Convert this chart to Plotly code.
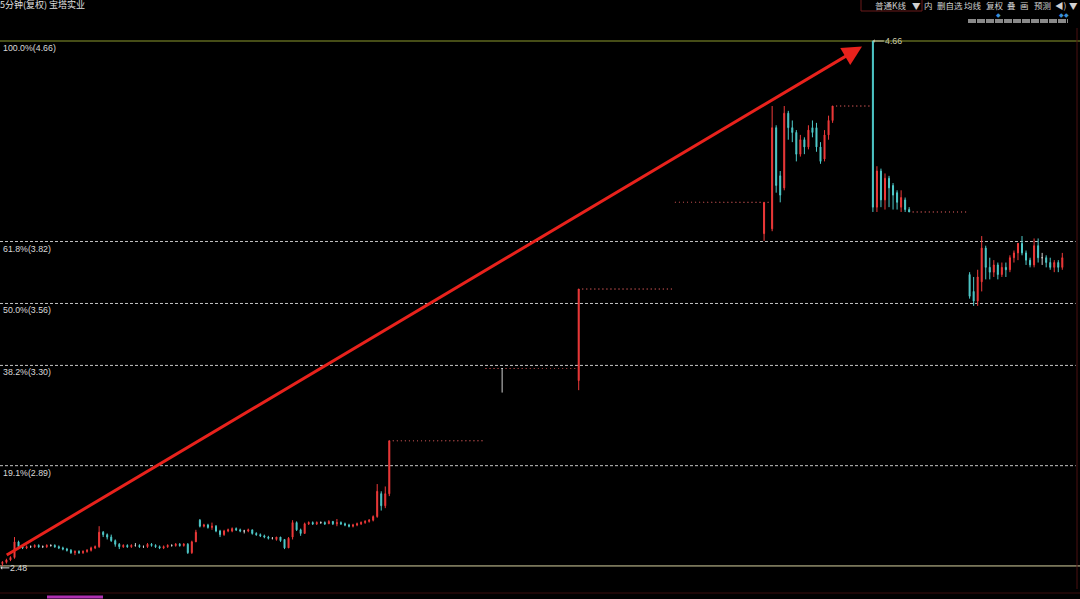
import plotly.graph_objects as go

# ---------------- data ----------------
title_text = "5分钟(复权) 宝塔实业"
fib_ratios = [1.0, 0.618, 0.5, 0.382, 0.191]
fib_pcts = ["100.0%", "61.8%", "50.0%", "38.2%", "19.1%"]
fib_labels = ["4.66", "3.82", "3.56", "3.30", "2.89"]
low_price = 2.48
high_price = 4.66
low_bar = 0
high_bar = 216

# bars as (open, high, low, close)
day1 = [(2.49, 2.50, 2.48, 2.495), (2.495, 2.51, 2.49, 2.505), (2.505, 2.52, 2.50, 2.515),
        (2.515, 2.60, 2.51, 2.58), (2.58, 2.585, 2.55, 2.56), (2.56, 2.565, 2.55, 2.555),
        (2.555, 2.565, 2.55, 2.56), (2.56, 2.565, 2.555, 2.56), (2.56, 2.57, 2.555, 2.565),
        (2.565, 2.57, 2.555, 2.56), (2.56, 2.565, 2.555, 2.56), (2.56, 2.57, 2.555, 2.565),
        (2.565, 2.57, 2.56, 2.565), (2.565, 2.57, 2.555, 2.56), (2.56, 2.565, 2.55, 2.555),
        (2.555, 2.56, 2.545, 2.55), (2.55, 2.555, 2.54, 2.545), (2.545, 2.55, 2.53, 2.535),
        (2.535, 2.545, 2.525, 2.54), (2.54, 2.545, 2.53, 2.535), (2.535, 2.545, 2.53, 2.54),
        (2.54, 2.55, 2.535, 2.545), (2.545, 2.56, 2.54, 2.555), (2.555, 2.565, 2.55, 2.56)]
day2 = [(2.56, 2.645, 2.555, 2.62), (2.62, 2.625, 2.60, 2.61), (2.61, 2.615, 2.59, 2.60),
        (2.60, 2.61, 2.58, 2.585), (2.585, 2.59, 2.56, 2.57), (2.57, 2.575, 2.55, 2.56),
        (2.56, 2.57, 2.555, 2.565), (2.565, 2.57, 2.555, 2.56), (2.56, 2.57, 2.555, 2.565),
        (2.565, 2.575, 2.56, 2.565), (2.565, 2.57, 2.555, 2.56), (2.56, 2.565, 2.555, 2.56),
        (2.56, 2.575, 2.555, 2.57), (2.57, 2.575, 2.56, 2.565), (2.565, 2.57, 2.555, 2.56),
        (2.56, 2.565, 2.55, 2.555), (2.555, 2.565, 2.55, 2.56), (2.56, 2.57, 2.555, 2.565),
        (2.565, 2.57, 2.56, 2.565), (2.565, 2.575, 2.56, 2.57), (2.57, 2.575, 2.56, 2.565),
        (2.565, 2.575, 2.56, 2.57), (2.57, 2.575, 2.53, 2.535), (2.535, 2.585, 2.53, 2.58)]
day3 = [(2.58, 2.63, 2.58, 2.62), (2.67, 2.675, 2.64, 2.645), (2.645, 2.655, 2.64, 2.65),
        (2.65, 2.655, 2.635, 2.64), (2.64, 2.66, 2.63, 2.645), (2.645, 2.65, 2.62, 2.625),
        (2.625, 2.63, 2.60, 2.61), (2.61, 2.63, 2.605, 2.625), (2.625, 2.635, 2.62, 2.63),
        (2.625, 2.64, 2.62, 2.635), (2.635, 2.64, 2.625, 2.63), (2.63, 2.635, 2.62, 2.625),
        (2.625, 2.63, 2.615, 2.625), (2.625, 2.635, 2.62, 2.63), (2.63, 2.63, 2.61, 2.615),
        (2.615, 2.62, 2.605, 2.61), (2.61, 2.615, 2.60, 2.605), (2.605, 2.61, 2.595, 2.60),
        (2.60, 2.605, 2.59, 2.595), (2.595, 2.60, 2.59, 2.595), (2.59, 2.60, 2.585, 2.60),
        (2.60, 2.60, 2.58, 2.585), (2.59, 2.59, 2.55, 2.555), (2.555, 2.60, 2.555, 2.595)]
day4 = [(2.60, 2.67, 2.59, 2.66), (2.66, 2.665, 2.625, 2.63), (2.63, 2.635, 2.605, 2.615),
        (2.615, 2.66, 2.615, 2.655), (2.655, 2.665, 2.65, 2.66), (2.66, 2.665, 2.65, 2.655),
        (2.655, 2.665, 2.65, 2.66), (2.66, 2.665, 2.655, 2.66), (2.66, 2.665, 2.65, 2.655),
        (2.655, 2.67, 2.655, 2.665), (2.665, 2.665, 2.65, 2.655), (2.655, 2.675, 2.645, 2.66),
        (2.66, 2.665, 2.65, 2.655), (2.655, 2.66, 2.645, 2.65), (2.65, 2.655, 2.64, 2.645),
        (2.645, 2.655, 2.64, 2.65), (2.65, 2.66, 2.645, 2.655), (2.655, 2.665, 2.65, 2.66),
        (2.66, 2.67, 2.655, 2.665), (2.665, 2.675, 2.66, 2.67), (2.67, 2.69, 2.665, 2.685),
        (2.685, 2.82, 2.68, 2.79), (2.78, 2.79, 2.71, 2.73), (2.73, 2.81, 2.72, 2.78)]
day5_open = [(2.78, 3.00, 2.77, 3.00)]
day6_dip = [(3.30, 3.30, 3.20, 3.30)]
day7_open = [(3.25, 3.63, 3.21, 3.63)]
day8_dip = [(3.86, 3.99, 3.83, 3.99)]
day9 = [(3.88, 4.39, 3.87, 4.30), (4.30, 4.31, 4.03, 4.06), (4.10, 4.12, 3.99, 4.02),
        (4.05, 4.39, 4.04, 4.36), (4.36, 4.37, 4.25, 4.30), (4.30, 4.33, 4.24, 4.28),
        (4.28, 4.29, 4.16, 4.19), (4.19, 4.27, 4.18, 4.25), (4.25, 4.26, 4.19, 4.22),
        (4.22, 4.31, 4.21, 4.29), (4.30, 4.33, 4.26, 4.28), (4.30, 4.32, 4.20, 4.22),
        (4.22, 4.24, 4.15, 4.16), (4.17, 4.29, 4.16, 4.27), (4.27, 4.35, 4.25, 4.33),
        (4.33, 4.39, 4.32, 4.39)]
day10 = [(4.66, 4.66, 3.95, 3.97), (3.97, 4.14, 3.95, 4.12), (4.12, 4.13, 3.97, 4.00),
         (4.00, 4.11, 3.96, 4.09), (4.09, 4.10, 3.97, 4.05), (4.06, 4.07, 3.96, 4.02),
         (4.03, 4.04, 3.96, 3.99), (3.97, 4.04, 3.95, 4.01), (4.00, 4.01, 3.95, 3.96),
         (3.96, 3.97, 3.95, 3.95)]
day11 = [(3.69, 3.70, 3.59, 3.60), (3.62, 3.68, 3.56, 3.58), (3.58, 3.71, 3.56, 3.68),
         (3.66, 3.85, 3.62, 3.80), (3.80, 3.81, 3.67, 3.72), (3.72, 3.76, 3.67, 3.70),
         (3.70, 3.75, 3.68, 3.73), (3.73, 3.74, 3.67, 3.69), (3.69, 3.74, 3.68, 3.72),
         (3.72, 3.74, 3.68, 3.71), (3.71, 3.77, 3.70, 3.76), (3.76, 3.79, 3.74, 3.78),
         (3.78, 3.82, 3.75, 3.82), (3.82, 3.85, 3.77, 3.78), (3.78, 3.79, 3.73, 3.75),
         (3.75, 3.76, 3.72, 3.73), (3.73, 3.84, 3.72, 3.81), (3.81, 3.84, 3.74, 3.76),
         (3.76, 3.78, 3.73, 3.76), (3.76, 3.77, 3.72, 3.74), (3.74, 3.76, 3.71, 3.72),
         (3.72, 3.75, 3.70, 3.74), (3.74, 3.75, 3.70, 3.72), (3.72, 3.78, 3.71, 3.76)]

# one-price (limit) runs: (price, number of bars)
run_d5 = (3.00, 23)
run_d6a = (3.30, 4)
run_d6b = (3.30, 18)
run_d7 = (3.63, 23)
run_d8a = (3.99, 22)
run_d8b = (3.99, 1)
run_d9 = (4.39, 9)
run_d10 = (3.95, 14)

sequence = [day1, day2, day3, day4, day5_open, run_d5, run_d6a, day6_dip, run_d6b,
            day7_open, run_d7, run_d8a, day8_dip, run_d8b, day9, run_d9, day10,
            run_d10, day11]

# arrow drawn on the chart (bar index, price)
arrow_tail = (0.7, 2.522)
arrow_tip = (213.3, 4.637)

toolbar_items = [("普通K线", 890), ("▼", 916), ("内", 928), ("删自选", 950), ("均线", 973),
                 ("复权", 995), ("叠", 1011), ("画", 1024), ("预测", 1042), ("◀)", 1061), ("▼", 1073)]

# ---------------- build ----------------
O, H, L, C = [], [], [], []
for seg in sequence:
    if isinstance(seg, tuple):
        p, n = seg
        for _ in range(n):
            O.append(p); H.append(p); L.append(p); C.append(p)
    else:
        for o, h, l, c in seg:
            O.append(o); H.append(h); L.append(l); C.append(c)
X = list(range(len(O)))

groups = {"flat": [], "up": [], "down": [], "doji": []}
for i in X:
    if C[i] > O[i]:
        groups["up"].append(i)
    elif C[i] < O[i]:
        groups["down"].append(i)
    elif H[i] > L[i]:
        groups["doji"].append(i)
    else:
        groups["flat"].append(i)
colors = {"up": "#f03a3a", "down": "#4fcaca", "doji": "#d0d0d0", "flat": "#8a3a3a"}

W, Hh = 1080, 599
px_per_bar = 4.03
x0 = -0.6
x1 = x0 + W / px_per_bar
px_per_unit = 240.8
y_top = high_price + 41 / px_per_unit
y_bot = high_price - (Hh - 41) / px_per_unit

fig = go.Figure()
for k, idx in groups.items():
    col = colors[k]
    fig.add_trace(go.Candlestick(
        x=[X[i] for i in idx], open=[O[i] for i in idx], high=[H[i] for i in idx],
        low=[L[i] for i in idx], close=[C[i] for i in idx],
        increasing=dict(line=dict(color=col, width=1), fillcolor=col),
        decreasing=dict(line=dict(color=col, width=1), fillcolor=col),
        whiskerwidth=0, showlegend=False, hoverinfo="skip"))

fib_levels = [low_price + r * (high_price - low_price) for r in fib_ratios]

shapes = []
dash_col = "#c4c4c4"
for p in fib_levels[1:]:
    shapes.append(dict(type="line", layer="below", xref="paper", x0=0, x1=0.996, yref="y",
                       y0=p, y1=p, line=dict(color=dash_col, width=1, dash="3px,2px")))
shapes.append(dict(type="line", layer="below", xref="paper", x0=0, x1=1, yref="y",
                   y0=high_price, y1=high_price, line=dict(color="#8c9a2e", width=1)))
shapes.append(dict(type="line", layer="below", xref="paper", x0=0, x1=1, yref="y",
                   y0=low_price, y1=low_price, line=dict(color="#d8d2a0", width=1)))
# bottom bar
shapes.append(dict(type="line", xref="paper", x0=0, x1=1, yref="paper", y0=6/Hh, y1=6/Hh,
                   line=dict(color="#3a0c0c", width=1)))
shapes.append(dict(type="line", xref="paper", x0=47/W, x1=103/W, yref="paper", y0=2/Hh, y1=2/Hh,
                   line=dict(color="#b030b0", width=3)))
# toolbar box
shapes.append(dict(type="rect", xref="paper", yref="paper", x0=861/W, x1=922/W,
                   y0=1 - 11/Hh, y1=1.01, line=dict(color="#6a1a1a", width=1)))
# scroll strip
shapes.append(dict(type="line", xref="paper", yref="paper", x0=968/W, x1=1068/W,
                   y0=1 - 21/Hh, y1=1 - 21/Hh,
                   line=dict(color="#8a8a8a", width=4, dash="8px,1px")))
# right edge line
shapes.append(dict(type="line", xref="paper", yref="paper", x0=1077/W, x1=1077/W,
                   y0=10/Hh, y1=1 - 28/Hh, line=dict(color="#4a1010", width=1)))

ann = []
font_lab = dict(family="Liberation Sans, Noto Sans CJK SC", size=8.8, color="#d8d8d8")
for pct, lab, p in zip(fib_pcts, fib_labels, fib_levels):
    ann.append(dict(xref="paper", x=0.0005, yref="y", y=p, yanchor="top", xanchor="left",
                    text=f"{pct}({lab})", showarrow=False, font=font_lab))
ann.append(dict(xref="paper", x=-2/W, yref="paper", y=1 - 5/Hh, xanchor="left", yanchor="middle",
                text=title_text, showarrow=False,
                font=dict(family="Noto Sans CJK SC", size=9, color="#e0e0e0")))
for t, px in toolbar_items:
    ann.append(dict(xref="paper", x=px/W, yref="paper", y=1 - 5/Hh, xanchor="center",
                    yanchor="middle", text=t, showarrow=False,
                    font=dict(family="Noto Sans CJK SC", size=8.5, color="#d0d0d0")))
for px in (998, 1061, 1066):
    ann.append(dict(xref="paper", x=px/W, yref="paper", y=1 - 14/Hh, xanchor="center",
                    yanchor="middle", text="◆", showarrow=False,
                    font=dict(family="DejaVu Sans", size=6, color="#3a90d8")))
# price markers
ann.append(dict(x=high_bar, y=high_price, xref="x", yref="y", text="4.66", showarrow=True,
                ax=11, ay=0, xanchor="left", arrowhead=1, arrowsize=0.6, arrowwidth=1,
                arrowcolor="#c8c8a8", font=dict(family="Liberation Sans", size=8.8, color="#c8c8a8"),
                borderpad=0))
ann.append(dict(x=low_bar - 0.5, y=low_price - 0.008, xref="x", yref="y", text="2.48", showarrow=True,
                ax=9, ay=0, xanchor="left", arrowhead=1, arrowsize=0.6, arrowwidth=1,
                arrowcolor="#d8d8d8", font=dict(family="Liberation Sans", size=8.8, color="#d8d8d8"),
                borderpad=0))
# red trend arrow
ann.append(dict(x=arrow_tip[0], y=arrow_tip[1], ax=arrow_tail[0], ay=arrow_tail[1],
                xref="x", yref="y", axref="x", ayref="y", text="", showarrow=True,
                arrowhead=2, arrowsize=1.3, arrowwidth=3, arrowcolor="#e8221c"))

fig.update_layout(
    width=W, height=Hh, margin=dict(l=0, r=0, t=0, b=0),
    paper_bgcolor="#000000", plot_bgcolor="#000000",
    xaxis=dict(range=[x0, x1], visible=False, rangeslider=dict(visible=False), fixedrange=True),
    yaxis=dict(range=[y_bot, y_top], visible=False, fixedrange=True),
    shapes=shapes, annotations=ann, boxgap=0.65, showlegend=False,
)

fig.write_html("out.html", post_script="document.body.style.margin='0';document.body.style.overflow='hidden';",
               config={"displayModeBar": False})
